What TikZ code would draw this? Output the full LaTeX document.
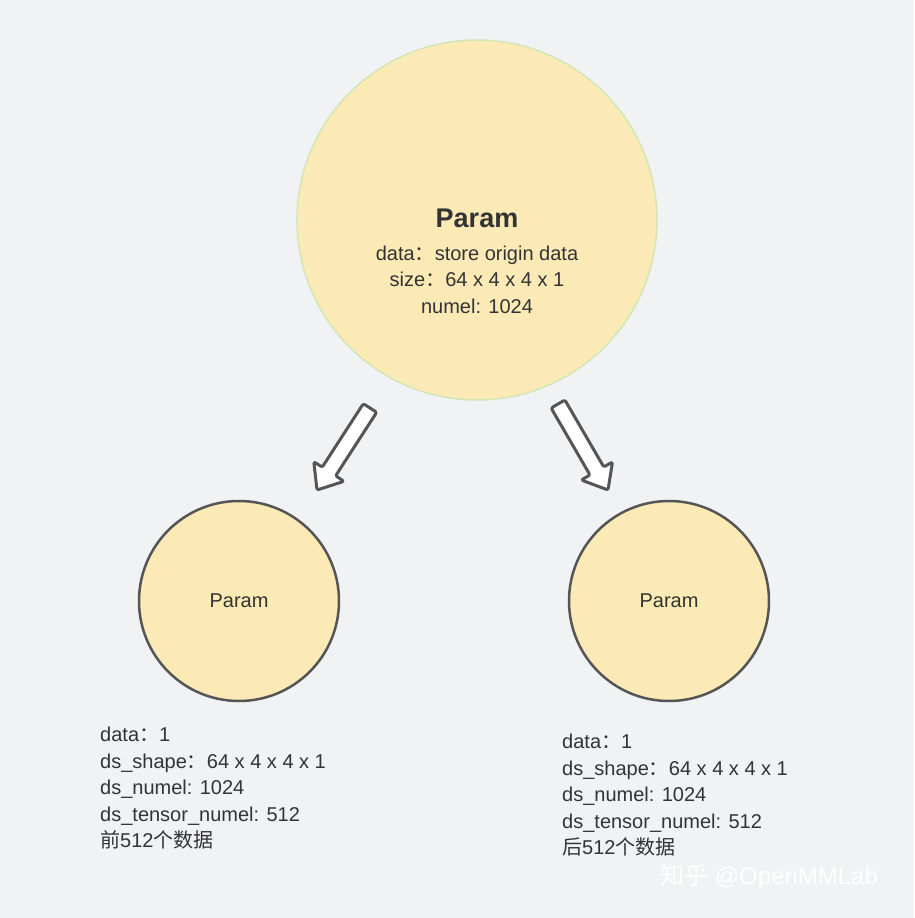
\documentclass[tikz,border=0pt]{standalone}
\usepackage{fontspec}
\setmainfont{Liberation Sans}
\newfontfamily\cjk{Noto Sans CJK SC}
\definecolor{bg}{HTML}{F1F2F4}
\definecolor{cfill}{HTML}{FBEAB5}
\definecolor{ring}{HTML}{D3E6B5}
\definecolor{dk}{HTML}{555555}
\definecolor{tx}{HTML}{333333}
\begin{document}
\begin{tikzpicture}[x=1pt,y=-1pt,
  small/.style={circle,draw=dk,line width=2.5pt,fill=cfill,minimum size=200pt,inner sep=0pt,text=tx,font=\fontsize{20}{24}\selectfont},
  info/.style={anchor=north west,align=left,text=tx,inner sep=0pt,font=\fontsize{20}{26.5}\selectfont},
  blk/.style={draw=dk,line width=3pt,fill=white,rounded corners=2pt,line join=round}]
\fill[bg] (0,0) rectangle (914,918);
\useasboundingbox (0,0) rectangle (914,918);
\node[circle,draw=ring,line width=1.5pt,fill=cfill,minimum size=360pt,inner sep=0pt] (big) at (477,220) {};
\node[text=tx,font=\bfseries\fontsize{27}{30}\selectfont] (t) at (477,218) {Param};
\node[text=tx,align=center,font=\fontsize{20}{26.5}\selectfont,anchor=north] (d) at (477,242) {data{\cjk ：}store origin data\\size{\cjk ：}64 x 4 x 4 x 1\\numel: 1024};
\node[small] (l) at (239,601) {Param};
\node[small] (r) at (669,601) {Param};
\draw[blk] (376.7,412.3) -- (335.6,475.8) -- (344,481.3) -- (317,490) -- (313.8,461.7) -- (322.2,467.2) -- (363.3,403.7) -- cycle;
\draw[blk] (564.9,400) -- (603.8,467) -- (612.5,461.9) -- (608,490) -- (581.3,480) -- (590,475) -- (551.1,408) -- cycle;
\node[info] (li) at (100,727) {data{\cjk ：}1\\ds\_shape{\cjk ：}64 x 4 x 4 x 1\\ds\_numel: 1024\\ds\_tensor\_numel: 512\\{\cjk 前}512{\cjk 个数据}};
\node[info] (ri) at (562,734) {data{\cjk ：}1\\ds\_shape{\cjk ：}64 x 4 x 4 x 1\\ds\_numel: 1024\\ds\_tensor\_numel: 512\\{\cjk 后}512{\cjk 个数据}};
\node[text=white,font=\fontsize{24}{28}\selectfont] (wm) at (769,877) {{\cjk 知乎} @OpenMMLab};
\end{tikzpicture}
\end{document}
